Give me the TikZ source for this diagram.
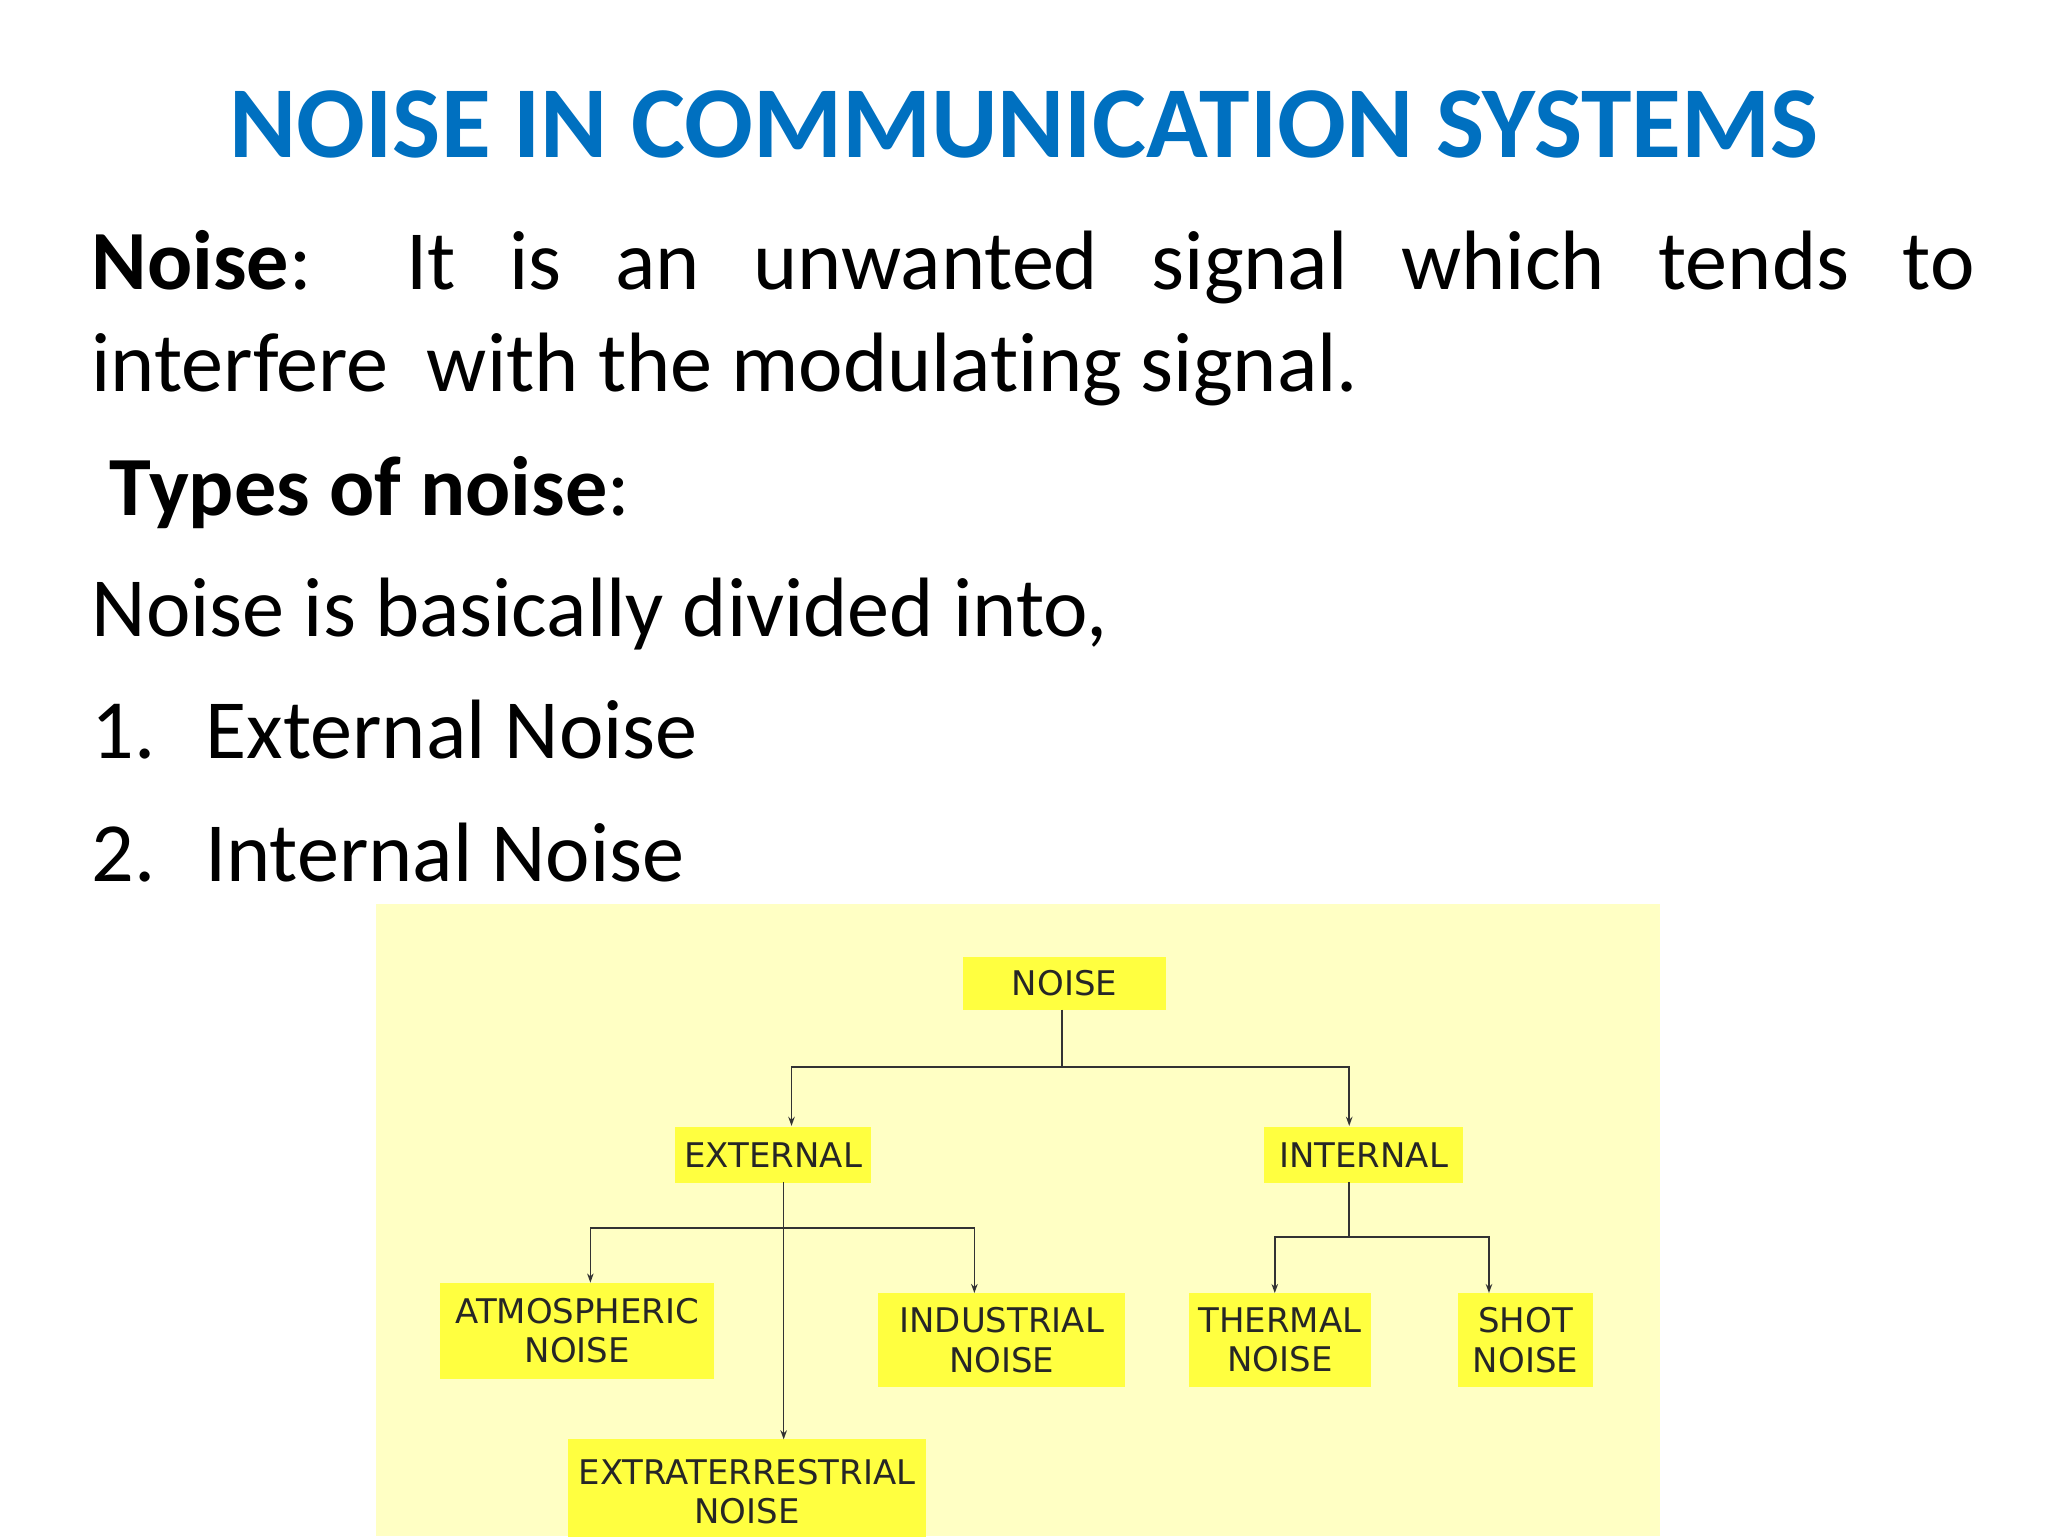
\documentclass[tikz,border=0pt]{standalone}
\usepackage{fontspec}
\setmainfont{Carlito}[RawFeature={-liga}]
\newfontfamily\dfont{DejaVu Sans}
\usetikzlibrary{arrows.meta}
\begin{document}
\begin{tikzpicture}[x=1pt,y=-1pt,
  box/.style={fill=ynode, inner sep=0pt, align=center, font=\dfont\fontsize{26}{30}\selectfont, text=black!85},
  conn/.style={draw=black!80, line width=1.2pt},
  arr/.style={conn, -{Stealth[length=7pt,width=5pt]}},
  txt/.style={anchor=base west, inner sep=0pt, font=\fontsize{64.5}{78}\selectfont}]
\definecolor{ynode}{HTML}{FFFF40}
\definecolor{ybg}{HTML}{FFFFC4}
\definecolor{tblue}{HTML}{0070C0}
\useasboundingbox (0,0) rectangle (1568,1176);
\fill[white] (0,0) rectangle (1568,1176);
\node[inner sep=0pt, text=tblue, font=\bfseries\fontsize{78}{84}\selectfont] (title) at (784,95) {NOISE IN COMMUNICATION SYSTEMS};
\node[anchor=north west, inner sep=0pt, text width=1442pt, align=justify, font=\fontsize{64.5}{78}\selectfont] (def) at (70,176) {\textbf{Noise}: It is an unwanted signal which tends to\linebreak interfere\ \ with the modulating signal.};
\node[txt] (types) at (84,395) {\textbf{Types of noise}:};
\node[txt] (basic) at (70,487) {Noise is basically divided into,};
\node[txt] (one) at (70,581) {1.\hspace{38pt}External Noise};
\node[txt] (two) at (70,675) {2.\hspace{38pt}Internal Noise};
\fill[ybg] (288,692) rectangle (1271,1176);
\node[box, minimum width=155pt, minimum height=41pt] (noise) at (815,753) {NOISE};
\node[box, minimum width=150pt, minimum height=43pt] (ext) at (592,884) {EXTERNAL};
\node[box, minimum width=152pt, minimum height=43pt] (int) at (1044,884) {INTERNAL};
\node[box, minimum width=210pt, minimum height=73pt] (atm) at (442,1019) {ATMOSPHERIC\\NOISE};
\node[box, minimum width=189pt, minimum height=72pt] (ind) at (767,1026) {INDUSTRIAL\\NOISE};
\node[box, minimum width=139pt, minimum height=72pt] (th) at (980,1026) {THERMAL\\NOISE};
\node[box, minimum width=104pt, minimum height=72pt] (shot) at (1168,1026) {SHOT\\NOISE};
\node[box, minimum width=274pt, minimum height=80pt] (extra) at (572,1142) {EXTRATERRESTRIAL\\NOISE};
\coordinate (n1) at (813,817);
\draw[conn] (813,773) -- (n1);
\draw[arr] (n1) -- (606,817) -- (606,862);
\draw[arr] (n1) -- (1033,817) -- (1033,862);
\draw[arr] (600,905) -- (600,1102);
\coordinate (e1) at (600,940);
\draw[arr] (e1) -- (452,940) -- (452,982);
\draw[arr] (e1) -- (746,940) -- (746,990);
\coordinate (i1) at (1033,947);
\draw[conn] (1033,905) -- (i1);
\draw[arr] (i1) -- (976,947) -- (976,990);
\draw[arr] (i1) -- (1140,947) -- (1140,990);
\end{tikzpicture}
\end{document}
